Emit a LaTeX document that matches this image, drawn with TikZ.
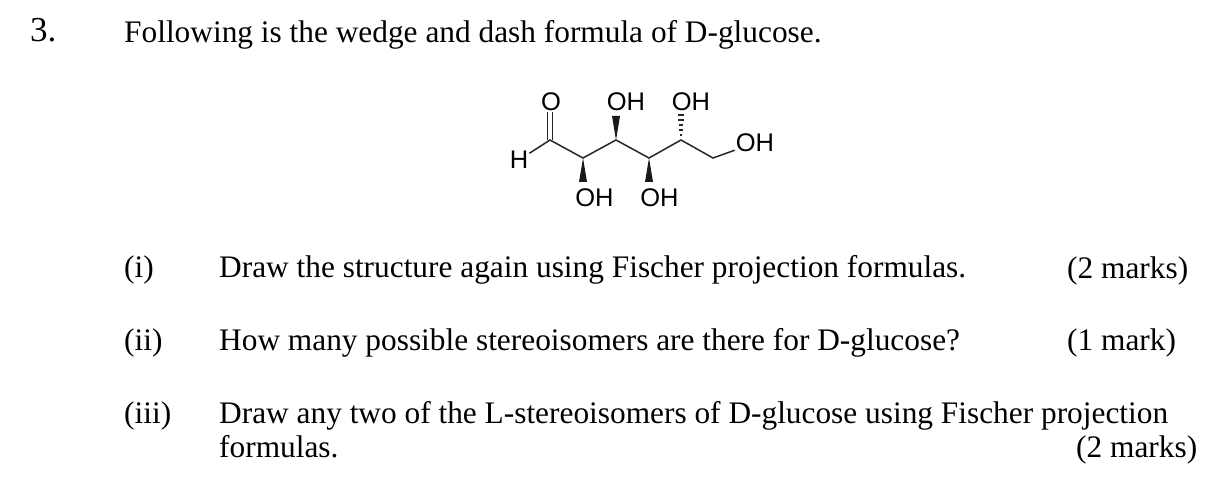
\documentclass[tikz,border=0pt]{standalone}
\usepackage{fontspec}
\setmainfont{Liberation Serif}
\newfontfamily\atomfont{Liberation Sans}
\usetikzlibrary{calc}
\tikzset{
  txt/.style={anchor=base west,inner sep=0pt,font=\fontsize{31.35}{31.35}\selectfont},
  atom/.style={inner sep=1pt,font=\atomfont\fontsize{25.5}{25.5}\selectfont},
  bond/.style={line width=1.5pt,black!85},
  wedge/.style={fill=black!90,draw=none}
}
\begin{document}
\begin{tikzpicture}[x=1pt,y=-1pt]
\useasboundingbox (0,0) rectangle (1216,492);
% question text
\node[txt,font=\fontsize{35}{35}\selectfont] (num) at (30,42) {3.};
\node[txt] (head) at (124,43) {Following is the wedge and dash formula of D-glucose.};
\node[txt] (i) at (124,277) {(i)};
\node[txt] (itxt) at (219,277) {Draw the structure again using Fischer projection formulas.};
\node[txt] (imark) at (1067,278) {(2 marks)};
\node[txt] (ii) at (124,350) {(ii)};
\node[txt] (iitxt) at (219,350) {How many possible stereoisomers are there for D-glucose?};
\node[txt] (iimark) at (1067,350) {(1 mark)};
\node[txt] (iii) at (124,423) {(iii)};
\node[txt] (iiitxt) at (219,423) {Draw any two of the L-stereoisomers of D-glucose using Fischer projection};
\node[txt] (form) at (219,457) {formulas.};
\node[txt] (iiimark) at (1076,457) {(2 marks)};
% carbon chain
\coordinate (c1) at (550,140);
\coordinate (c2) at (583,158);
\coordinate (c3) at (616,140);
\coordinate (c4) at (649,158);
\coordinate (c5) at (681,140);
\coordinate (c6) at (713,158);
\node[atom] (o) at (551,102) {O};
\node[atom] (h) at (519,160) {H};
\node[atom] (oh3) at (626,102) {OH};
\node[atom] (oh5) at (691,102) {OH};
\node[atom] (oh2) at (594.5,198) {OH};
\node[atom] (oh4) at (659.5,198) {OH};
\node[atom] (oh6) at (755,143) {OH};
\draw[bond] (h) -- (c1) -- (c2) -- (c3) -- (c4) -- (c5) -- (c6) -- (oh6);
\draw[bond] ($(c1)+(-2.5,0)$) -- ($(o.south)+(-3.5,0)$);
\draw[bond] ($(c1)+(2.5,0)$) -- ($(o.south)+(1.5,0)$);
% wedges
\fill[wedge] (c2) -- (587,182) -- (579,182) -- cycle;
\fill[wedge] (c4) -- (653,182) -- (645,182) -- cycle;
\fill[wedge] (c3) -- (620,116) -- (612,116) -- cycle;
% dashes
\foreach \y/\w in {135/1.0,130/1.6,125/2.2,120/2.8,115/3.4}
  \draw[line width=1.2pt,black!85] ($(c5)+(-\w,\y-140)$) -- ($(c5)+(\w,\y-140)$);
\end{tikzpicture}
\end{document}
